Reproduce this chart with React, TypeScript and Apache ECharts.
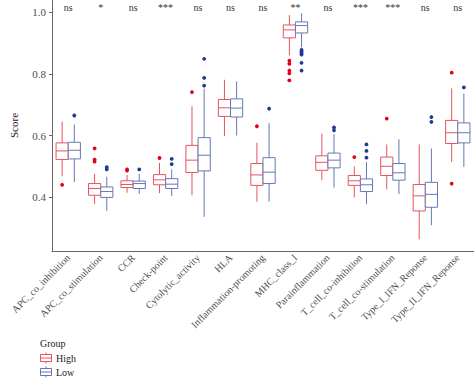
import React, { useEffect, useRef } from "react";
import * as echarts from "echarts";

const categories = [
  "APC_co_inhibition",
  "APC_co_stimulation",
  "CCR",
  "Check-point",
  "Cytolytic_activity",
  "HLA",
  "Inflammation-promoting",
  "MHC_class_I",
  "Parainflammation",
  "T_cell_co-inhibition",
  "T_cell_co-stimulation",
  "Type_I_IFN_Reponse",
  "Type_II_IFN_Reponse",
];

const sigLabels = ["ns", "*", "ns", "***", "ns", "ns", "ns", "**", "ns", "***", "***", "ns", "ns"];

const yTicks = [0.4, 0.6, 0.8, 1.0];

// [lower whisker, Q1, median, Q3, upper whisker]
const highBoxes = [
  [0.468, 0.522, 0.55, 0.576, 0.645],
  [0.378, 0.406, 0.428, 0.444, 0.476],
  [0.414, 0.431, 0.441, 0.453, 0.472],
  [0.413, 0.44, 0.456, 0.473, 0.511],
  [0.406, 0.48, 0.52, 0.568, 0.695],
  [0.598, 0.662, 0.69, 0.717, 0.781],
  [0.385, 0.438, 0.472, 0.509, 0.576],
  [0.86, 0.917, 0.943, 0.959, 0.991],
  [0.455, 0.487, 0.513, 0.534, 0.606],
  [0.399, 0.438, 0.453, 0.47, 0.5],
  [0.425, 0.47, 0.5, 0.53, 0.571],
  [0.263, 0.355, 0.404, 0.441, 0.571],
  [0.514, 0.574, 0.609, 0.649, 0.753],
];

const lowBoxes = [
  [0.449, 0.524, 0.552, 0.578, 0.636],
  [0.356, 0.399, 0.418, 0.433, 0.466],
  [0.41, 0.428, 0.444, 0.452, 0.475],
  [0.403, 0.428, 0.442, 0.46, 0.49],
  [0.336, 0.485, 0.536, 0.593, 0.752],
  [0.6, 0.66, 0.689, 0.719, 0.776],
  [0.385, 0.444, 0.481, 0.528, 0.64],
  [0.886, 0.933, 0.957, 0.969, 0.997],
  [0.431, 0.495, 0.52, 0.543, 0.604],
  [0.377, 0.418, 0.44, 0.459, 0.514],
  [0.41, 0.455, 0.479, 0.509, 0.588],
  [0.309, 0.367, 0.409, 0.448, 0.558],
  [0.498, 0.576, 0.609, 0.641, 0.736],
];

// [category index, value]
const highOutliers = [
  [0, 0.44], [1, 0.558], [1, 0.522], [1, 0.515], [2, 0.49], [2, 0.486],
  [3, 0.527], [4, 0.741], [6, 0.63], [7, 0.843], [7, 0.833], [7, 0.811],
  [7, 0.802], [7, 0.779], [9, 0.53], [10, 0.655], [12, 0.804], [12, 0.444],
];

const lowOutliers = [
  [0, 0.665], [1, 0.497], [1, 0.49], [2, 0.49], [3, 0.524], [3, 0.507],
  [4, 0.849], [4, 0.787], [4, 0.762], [6, 0.687], [7, 0.878], [7, 0.873],
  [7, 0.868], [7, 0.863], [7, 0.836], [7, 0.811], [8, 0.626], [8, 0.617],
  [9, 0.571], [9, 0.55], [9, 0.528], [11, 0.66], [11, 0.644], [12, 0.756],
];

const FONT = "'Liberation Serif', 'DejaVu Serif', serif";
const HIGH_LINE = "#E6535F";
const LOW_LINE = "#6677B5";
const HIGH_PT = "#E3001B";
const LOW_PT = "#1F3B8F";

function boxSeries(name: string, boxes: number[][], side: number, color: string) {
  return {
    type: "custom",
    name,
    clip: false,
    data: boxes.map((b, i) => [i, ...b]),
    encode: { x: 0, y: [1, 2, 3, 4, 5] },
    z: 2,
    renderItem: (params: any, api: any) => {
      const idx = api.value(0);
      const band = api.size([1, 0])[0];
      const w = band * 0.375;
      const cx = api.coord([idx, api.value(3)])[0] + side * band * 0.1875;
      const y = (k: number) => api.coord([idx, api.value(k)])[1];
      const yMin = y(1), yQ1 = y(2), yMed = y(3), yQ3 = y(4), yMax = y(5);
      const style = { stroke: color, lineWidth: 1, fill: null };
      return {
        type: "group",
        children: [
          { type: "line", shape: { x1: cx, y1: yMax, x2: cx, y2: yQ3 }, style },
          { type: "line", shape: { x1: cx, y1: yQ1, x2: cx, y2: yMin }, style },
          {
            type: "rect",
            shape: { x: cx - w / 2, y: yQ3, width: w, height: yQ1 - yQ3 },
            style: { stroke: color, lineWidth: 1, fill: "#ffffff" },
          },
          { type: "line", shape: { x1: cx - w / 2, y1: yMed, x2: cx + w / 2, y2: yMed }, style },
        ],
      };
    },
  };
}

function outlierSeries(name: string, pts: number[][], side: number, color: string) {
  return {
    type: "custom",
    name,
    clip: false,
    data: pts,
    encode: { x: 0, y: 1 },
    z: 3,
    renderItem: (params: any, api: any) => {
      const band = api.size([1, 0])[0];
      const p = api.coord([api.value(0), api.value(1)]);
      return {
        type: "circle",
        shape: { cx: p[0] + side * band * 0.1875, cy: p[1], r: 1.9 },
        style: { fill: color, stroke: null },
      };
    },
  };
}

const sigSeries = {
  type: "custom",
  name: "sig",
  clip: false,
  data: sigLabels.map((_, i) => [i, 1.015]),
  encode: { x: 0, y: 1 },
  z: 4,
  renderItem: (params: any, api: any) => {
    const p = api.coord([api.value(0), api.value(1)]);
    return {
      type: "text",
      x: p[0],
      y: p[1],
      style: {
        text: sigLabels[params.dataIndex],
        fill: "#333333",
        font: `10px ${FONT}`,
        textAlign: "center",
        textVerticalAlign: "middle",
      },
    };
  },
};

function legendItem(label: string, color: string, cy: number) {
  const s = { stroke: color, lineWidth: 1 };
  return {
    type: "group",
    x: 40,
    y: cy,
    children: [
      { type: "line", shape: { x1: 6, y1: -5.5, x2: 6, y2: -3.5 }, style: s },
      { type: "rect", shape: { x: 0.5, y: -3.5, width: 11, height: 7 }, style: { ...s, fill: "#fff" } },
      { type: "line", shape: { x1: 0.5, y1: 0, x2: 11.5, y2: 0 }, style: s },
      { type: "line", shape: { x1: 6, y1: 3.5, x2: 6, y2: 5.5 }, style: s },
      {
        type: "text",
        x: 16,
        y: 0,
        style: { text: label, fill: "#222", font: `10px ${FONT}`, textVerticalAlign: "middle" },
      },
    ],
  };
}

export default function App() {
  const ref = useRef<HTMLDivElement>(null);
  useEffect(() => {
    if (!ref.current) return;
    const chart = echarts.init(ref.current, undefined, { renderer: "svg" });
    chart.setOption({
      animation: false,
      backgroundColor: "#ffffff",
      grid: { left: 40, right: 0, top: 0, bottom: 129 },
      xAxis: {
        type: "category",
        data: categories,
        axisLine: { lineStyle: { color: "#666", width: 1 } },
        axisTick: { alignWithLabel: true, length: 3, lineStyle: { color: "#666" } },
        axisLabel: {
          rotate: 45,
          interval: 0,
          margin: 5,
          fontFamily: FONT,
          fontSize: 10,
          color: "#4D4D4D",
        },
        splitLine: { show: false },
      },
      yAxis: {
        type: "value",
        min: 0.225,
        max: 1.04,
        name: "Score",
        nameLocation: "middle",
        nameGap: 33,
        nameTextStyle: { fontFamily: FONT, fontSize: 11, color: "#222" },
        axisLine: { show: true, lineStyle: { color: "#666", width: 1 } },
        axisTick: { show: true, length: 3, customValues: yTicks, lineStyle: { color: "#666" } },
        axisLabel: {
          customValues: yTicks,
          formatter: (v: number) => v.toFixed(1),
          margin: 6,
          fontFamily: FONT,
          fontSize: 11,
          color: "#4D4D4D",
        },
        splitLine: { show: false },
      },
      series: [
        boxSeries("High", highBoxes, -1, HIGH_LINE),
        boxSeries("Low", lowBoxes, 1, LOW_LINE),
        outlierSeries("High outliers", highOutliers, -1, HIGH_PT),
        outlierSeries("Low outliers", lowOutliers, 1, LOW_PT),
        sigSeries,
      ],
      graphic: [
        {
          type: "text",
          x: 40,
          y: 343,
          style: { text: "Group", fill: "#222", font: `10px ${FONT}`, textVerticalAlign: "middle" },
        },
        legendItem("High", HIGH_LINE, 358),
        legendItem("Low", LOW_LINE, 372),
      ],
    });
    return () => chart.dispose();
  }, []);
  return (
    <div
      ref={ref}
      style={{ position: "absolute", left: 0, top: 0, width: 474, height: 380 }}
    />
  );
}
